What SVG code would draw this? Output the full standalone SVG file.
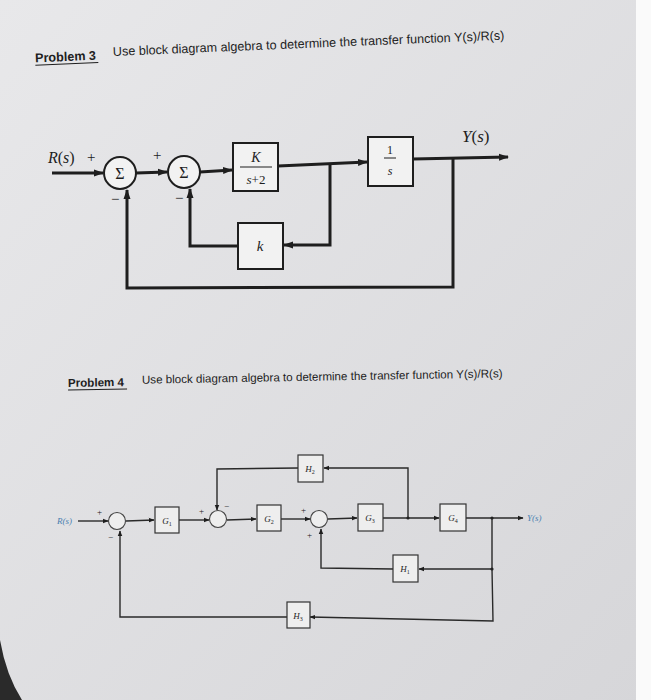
<svg xmlns="http://www.w3.org/2000/svg" width="651" height="700" viewBox="0 0 651 700">
<defs>
<marker id="a" viewBox="0 0 10 10" refX="9" refY="5" markerWidth="6" markerHeight="6" orient="auto-start-reverse" markerUnits="userSpaceOnUse"><path d="M0,1 L10,5 L0,9 z" fill="#1e1e1e"/></marker>
<marker id="a2" viewBox="0 0 10 10" refX="9" refY="5" markerWidth="10" markerHeight="10" orient="auto" markerUnits="userSpaceOnUse"><path d="M0,1.5 L10,5 L0,8.5 z" fill="#1e1e1e"/></marker>
<linearGradient id="bg" x1="0" y1="0" x2="1" y2="1"><stop offset="0" stop-color="#e8e8ea"/><stop offset="1" stop-color="#d6d6d9"/></linearGradient>
</defs>
<style>
.t{font-family:"Liberation Sans",Arial,sans-serif;font-size:12.6px;fill:#1e1e1e}
.s{font-family:"Liberation Serif","Times New Roman",serif;fill:#1e1e1e}
.w3{stroke:#1e1e1e;stroke-width:3;fill:none}
.w1{stroke:#2a2a2a;stroke-width:1.4;fill:none}
.b3{fill:#f2f2f2;stroke:#1e1e1e;stroke-width:2}
.b4{fill:#eeeeee;stroke:#333;stroke-width:1.2}
.blue{font-family:"Liberation Serif",serif;font-size:9px;fill:#4a7fb0;font-style:italic}
</style>
<rect width="651" height="700" fill="url(#bg)"/>
<rect x="636" y="0" width="15" height="700" fill="#fafafa"/>
<path d="M0,640 Q6,675 22,700 L0,700 z" fill="#2a2a2a"/>

<g id="title3" transform="rotate(-2.4 113 55)">
<text class="t" x="35" y="59" style="font-weight:bold">Problem 3</text>
<line x1="35" y1="62" x2="98" y2="62" stroke="#1e1e1e" stroke-width="1"/>
<text class="t" x="113" y="56">Use block diagram algebra to determine the transfer function Y(s)/R(s)</text>
</g>

<g id="connectors3">
<line class="w3" x1="52" y1="173" x2="103" y2="173" marker-end="url(#a2)"/>
<line class="w3" x1="136" y1="173" x2="167" y2="172" marker-end="url(#a2)"/>
<line class="w3" x1="200" y1="172" x2="232" y2="170" marker-end="url(#a2)"/>
<line class="w3" x1="278" y1="166" x2="367" y2="162" marker-end="url(#a2)"/>
<polyline class="w3" points="330,164 330,245 284,245" marker-end="url(#a2)"/>
<polyline class="w3" points="238,246 190,246 190,189" marker-end="url(#a2)"/>
<line class="w3" x1="413" y1="159" x2="508" y2="157" marker-end="url(#a2)"/>
<polyline class="w3" points="453,158 453,287 127,288 127,190" marker-end="url(#a2)"/>
</g>
<g id="sum3a"><circle cx="120" cy="173" r="16" class="b3"/><text class="s" x="120" y="179" font-size="16" text-anchor="middle">Σ</text></g>
<g id="sum3b"><circle cx="184" cy="172" r="16" class="b3"/><text class="s" x="184" y="178" font-size="16" text-anchor="middle">Σ</text></g>
<g id="K"><rect x="233" y="143" width="45" height="48" class="b3"/><text class="s" x="256" y="162" font-size="14" font-style="italic" text-anchor="middle">K</text><line x1="240" y1="167" x2="272" y2="167" stroke="#1e1e1e" stroke-width="1"/><text class="s" x="256" y="184" font-size="13" text-anchor="middle"><tspan font-style="italic">s</tspan>+2</text></g>
<g id="integ"><rect x="368" y="137" width="45" height="49" class="b3"/><text class="s" x="390" y="154" font-size="12" text-anchor="middle">1</text><line x1="384" y1="158" x2="396" y2="158" stroke="#1e1e1e" stroke-width="1"/><text class="s" x="390" y="175" font-size="12" font-style="italic" text-anchor="middle">s</text></g>
<g id="kfb"><rect x="238" y="223" width="45" height="46" class="b3"/><text class="s" x="260" y="251" font-size="15" font-style="italic" text-anchor="middle">k</text></g>
<g id="labels3">
<text class="s" x="48" y="163" font-size="16"><tspan font-style="italic">R</tspan>(<tspan font-style="italic">s</tspan>)</text>
<text class="s" x="87" y="162" font-size="15">+</text>
<text class="s" x="153" y="160" font-size="15">+</text>
<text class="s" x="111" y="204" font-size="15">−</text>
<text class="s" x="175" y="203" font-size="15">−</text>
<text class="s" x="462" y="142" font-size="17"><tspan font-style="italic">Y</tspan>(<tspan font-style="italic">s</tspan>)</text>
</g>

<g id="title4" transform="rotate(-1 68 386)">
<text class="t" x="68" y="387" style="font-weight:bold;font-size:11.6px">Problem 4</text>
<line x1="68" y1="390" x2="127" y2="390" stroke="#1e1e1e" stroke-width="1"/>
<text class="t" x="142" y="385" style="font-size:11.6px">Use block diagram algebra to determine the transfer function Y(s)/R(s)</text>
</g>

<g id="connectors4">
<line class="w1" x1="78" y1="521" x2="108" y2="521" marker-end="url(#a)"/>
<line class="w1" x1="126" y1="521" x2="154" y2="520" marker-end="url(#a)"/>
<line class="w1" x1="179" y1="520" x2="209" y2="520" marker-end="url(#a)"/>
<line class="w1" x1="227" y1="520" x2="256" y2="519" marker-end="url(#a)"/>
<line class="w1" x1="281" y1="519" x2="310" y2="519" marker-end="url(#a)"/>
<line class="w1" x1="328" y1="519" x2="357" y2="518" marker-end="url(#a)"/>
<line class="w1" x1="383" y1="518" x2="439" y2="518" marker-end="url(#a)"/>
<line class="w1" x1="466" y1="518" x2="523" y2="518" marker-end="url(#a)"/>
<polyline class="w1" points="408,518 408,468 324,468" marker-end="url(#a)"/>
<polyline class="w1" points="298,468 217,469 217,510" marker-end="url(#a)"/>
<polyline class="w1" points="492,518 492,569 419,569" marker-end="url(#a)"/>
<polyline class="w1" points="393,569 321,568 321,529" marker-end="url(#a)"/>
<polyline class="w1" points="492,569 493,621 310,617" marker-end="url(#a)"/>
<polyline class="w1" points="287,617 120,617 120,531" marker-end="url(#a)"/>
<circle cx="408" cy="518" r="1.6" fill="#222"/>
<circle cx="492" cy="518" r="1.6" fill="#222"/>
<circle cx="492" cy="569" r="1.6" fill="#222"/>
</g>
<g id="sum4a"><circle cx="117" cy="521" r="8.5" fill="#eee" stroke="#444" stroke-width="1.1"/></g>
<g id="sum4b"><circle cx="218" cy="519" r="8.5" fill="#eee" stroke="#444" stroke-width="1.1"/></g>
<g id="sum4c"><circle cx="319" cy="519" r="8.5" fill="#eee" stroke="#444" stroke-width="1.1"/></g>
<g id="G1"><rect x="155" y="507" width="24" height="26" class="b4"/><text class="s" x="167" y="524" font-size="9" font-style="italic" text-anchor="middle">G<tspan font-size="6" dy="2" font-style="normal">1</tspan></text></g>
<g id="G2"><rect x="257" y="505" width="24" height="26" class="b4"/><text class="s" x="269" y="522" font-size="9" font-style="italic" text-anchor="middle">G<tspan font-size="6" dy="2" font-style="normal">2</tspan></text></g>
<g id="G3"><rect x="358" y="504" width="25" height="27" class="b4"/><text class="s" x="370" y="521" font-size="9" font-style="italic" text-anchor="middle">G<tspan font-size="6" dy="2" font-style="normal">3</tspan></text></g>
<g id="G4"><rect x="440" y="504" width="26" height="27" class="b4"/><text class="s" x="453" y="521" font-size="9" font-style="italic" text-anchor="middle">G<tspan font-size="6" dy="2" font-style="normal">4</tspan></text></g>
<g id="H2"><rect x="298" y="455" width="25" height="27" class="b4"/><text class="s" x="310" y="472" font-size="9" font-style="italic" text-anchor="middle">H<tspan font-size="6" dy="2" font-style="normal">2</tspan></text></g>
<g id="H1"><rect x="393" y="555" width="25" height="27" class="b4"/><text class="s" x="405" y="572" font-size="9" font-style="italic" text-anchor="middle">H<tspan font-size="6" dy="2" font-style="normal">1</tspan></text></g>
<g id="H3"><rect x="287" y="602" width="23" height="26" class="b4"/><text class="s" x="298" y="619" font-size="9" font-style="italic" text-anchor="middle">H<tspan font-size="6" dy="2" font-style="normal">3</tspan></text></g>
<g id="labels4">
<text class="blue" x="57" y="524">R(s)</text>
<text class="blue" x="527" y="521">Y(s)</text>
<text class="s" x="97" y="515" font-size="9">+</text>
<text class="s" x="108" y="540" font-size="9">−</text>
<text class="s" x="199" y="514" font-size="9">+</text>
<text class="s" x="224" y="509" font-size="9">−</text>
<text class="s" x="301" y="513" font-size="9">+</text>
<text class="s" x="307" y="538" font-size="9">+</text>
</g>
</svg>
